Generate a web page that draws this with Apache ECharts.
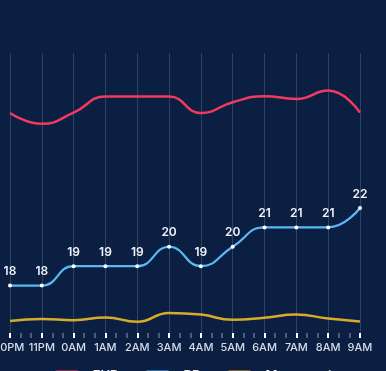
<!DOCTYPE html>
<html><head><meta charset="utf-8">
<script src="https://cdn.jsdelivr.net/npm/echarts@6/dist/echarts.min.js"></script>
<style>html,body{margin:0;padding:0;background:#0b1f43;}#c{width:386px;height:371px;}</style>
</head><body><div id="c"></div>
<script>
const hours = ['10PM','11PM','0AM','1AM','2AM','3AM','4AM','5AM','6AM','7AM','8AM','9AM'];
const fhr = [55, 52.3, 55.1, 59.1, 59.1, 59.1, 55, 57.7, 59.2, 58.5, 60.6, 55.1];
const rr = [18, 18, 19, 19, 19, 20, 19, 20, 21, 21, 21, 22];
const movement = [3, 3.5, 3.2, 3.9, 2.8, 5, 4.6, 3.3, 3.8, 4.6, 3.6, 2.9];
const names = ['FHR', 'RR', 'Movement'];
const colors = ['#f23a5e', '#5bb8f5', '#d6ac2a'];

const pairs = arr => arr.map((v, i) => [i, v]);
const font = 'Inter, Roboto, sans-serif';
const chart = echarts.init(document.getElementById('c'));
chart.setOption({
  backgroundColor: '#0b1f43',
  animation: false,
  grid: { left: 10, right: 26, top: 53, bottom: 38, containLabel: false, outerBoundsMode: 'none' },
  legend: {
    bottom: -17, left: 'center', itemWidth: 26, itemHeight: 12, itemGap: 26, icon: 'roundRect',
    textStyle: { color: '#e8ecf4', fontSize: 13, fontFamily: font, fontWeight: 600, padding: [0, 0, 0, 8] },
    data: names.map((n, i) => ({ name: n, itemStyle: { color: colors[i] } }))
  },
  xAxis: {
    type: 'value', min: 0, max: hours.length - 1, interval: 1,
    axisLine: { show: false },
    axisTick: { show: true, length: 5, lineStyle: { color: '#ffffff', width: 2 } },
    minorTick: { show: true, splitNumber: 3, length: 5, lineStyle: { color: 'rgba(200,210,230,0.35)', width: 2 } },
    splitLine: { show: true, lineStyle: { color: 'rgba(130,150,190,0.3)', width: 1 } },
    axisLabel: { color: '#d5dbe8', fontSize: 11, fontFamily: font, fontWeight: 500, margin: 9,
      formatter: v => hours[v] || '' }
  },
  yAxis: [
    { type: 'value', min: 0, max: 70, show: false },
    { type: 'value', min: 15.55, max: 30, show: false }
  ],
  series: [
    { name: names[0], type: 'line', yAxisIndex: 0, smooth: true, showSymbol: false, symbol: 'none',
      lineStyle: { color: colors[0], width: 2.5 }, itemStyle: { color: colors[0] }, data: pairs(fhr) },
    { name: names[1], type: 'line', yAxisIndex: 1, smooth: true, symbol: 'circle', symbolSize: 4,
      lineStyle: { color: colors[1], width: 2.2 }, itemStyle: { color: '#ffffff' },
      label: { show: true, position: 'top', distance: 6, color: '#f0f3f8', fontSize: 12, fontFamily: font, fontWeight: 600,
        formatter: p => p.value[1] },
      data: pairs(rr) },
    { name: names[2], type: 'line', yAxisIndex: 0, smooth: true, showSymbol: false, symbol: 'none',
      lineStyle: { color: colors[2], width: 2.5 }, itemStyle: { color: colors[2] }, data: pairs(movement) }
  ]
});
</script></body></html>
